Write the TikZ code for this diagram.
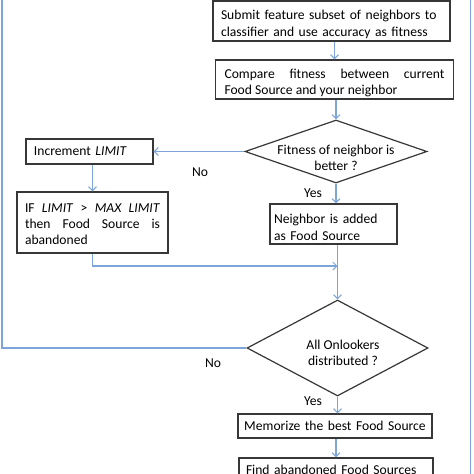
\documentclass[tikz,border=0pt]{standalone}
\usepackage{fontspec}
\setmainfont{Carlito}
\usetikzlibrary{shapes.geometric,arrows.meta}
\definecolor{flowc}{RGB}{125,165,218}
\definecolor{boxc}{RGB}{55,55,55}
\newcommand{\dn}{\rule{0pt}{16pt}}
\tikzset{
  box/.style={draw=boxc, line width=1.2pt, inner xsep=0pt, inner ysep=2pt, font=\fontsize{13.6}{16.3}\selectfont, fill=white},
  dia/.style={draw=boxc, line width=1.2pt, shape=diamond, inner sep=0pt},
  txt/.style={font=\fontsize{13.6}{16.3}\selectfont, inner sep=0pt},
  conn/.style={draw=flowc, line width=1.1pt},
  flow/.style={conn, -{Straight Barb[length=4pt,width=8pt,line width=1pt]}},
}
\begin{document}
\begin{tikzpicture}[x=1pt,y=-1pt]
\useasboundingbox (0,0) rectangle (474,474);
\clip (0,0) rectangle (474,474);
\fill[white] (0,0) rectangle (474,474);

% nodes
\node[box, minimum width=237pt, minimum height=40pt, text width=221pt, align=left] (b1) at (331.5,21) {\dn Submit feature subset of neighbors to\\classifier and use accuracy as fitness};
\node[box, minimum width=238pt, minimum height=39pt, text width=220pt, align=justify] (b2) at (334.5,79.5) {\dn Compare fitness between current\linebreak Food Source and your neighbor};
\node[dia, minimum width=182pt, minimum height=63pt] (d1) at (336,151.5) {};
\node[txt, align=center] (d1t) at (336,157.5) {Fitness of neighbor is\\better ?};
\node[box, minimum width=127pt, minimum height=25pt, text width=111pt, align=left] (inc) at (89.5,151.5) {Increment \textit{LIMIT}};
\node[box, minimum width=151pt, minimum height=61pt, text width=135pt, align=justify] (ifb) at (92.5,222.5) {\rule{0pt}{12pt}IF \textit{LIMIT} > \textit{MAX LIMIT}\linebreak then Food Source is\linebreak abandoned};
\node[box, minimum width=127pt, minimum height=40pt, text width=119pt, align=left] (nb) at (333.5,224) {\dn Neighbor is added\\as Food Source};
\node[dia, minimum width=181pt, minimum height=96pt] (d2) at (337.5,348) {};
\node[txt, align=center] (d2t) at (343,353) {All Onlookers\\distributed ?};
\node[box, minimum width=194pt, minimum height=24pt, text width=184pt, align=center] (mem) at (335,426) {Memorize the best Food Source};
\node[box, minimum width=194pt, minimum height=24pt, text width=180pt, align=left] (fnd) at (336,470) {Find abandoned Food Sources};

% labels
\node[txt] (no1) at (200,172) {No};
\node[txt] (yes1) at (313,193) {Yes};
\node[txt] (no2) at (213,363) {No};
\node[txt] (yes2) at (313,401) {Yes};

% free ends
\coordinate (topin) at (334,-10);
\coordinate (j1) at (337.5,266);
\coordinate (lefttop) at (2,-10);
\coordinate (rt) at (470.5,-10);
\coordinate (rb) at (470.5,490);

% connectors
\draw[conn] (topin) -- (b1.north -| topin);
\draw[flow] (b2.north |- b1.south) -- (b2.north);
\draw[flow] (d1.north |- b2.south) -- (d1.north);
\draw[flow] (d1.west) -- (inc.east);
\draw[flow] (ifb.north |- inc.south) -- (ifb.north);
\draw[flow] (d1.south) -- (d1.south |- nb.north);
\draw[flow] (d2.north |- nb.south) -- (d2.north);
\draw[flow] (ifb.south) |- (j1);
\draw[conn] (d2.west) -| (lefttop);
\draw[conn] (rb) -- (rt);
\draw[flow] (d2.south) -- (d2.south |- mem.north);
\draw[flow] (fnd.north |- mem.south) -- (fnd.north);
\end{tikzpicture}
\end{document}
